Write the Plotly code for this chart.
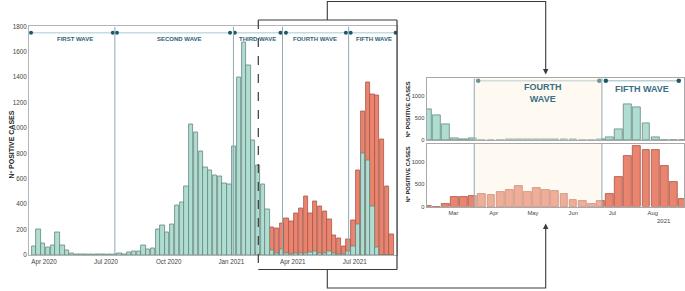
import pandas as pd
import plotly.graph_objects as go

W, H = 685, 291

# ---------------- data ----------------
week_dates = pd.date_range("2020-03-17", periods=76, freq="7D")
teal_cases = [65, 200, 92, 60, 79, 178, 73, 34, 15,
              5, 3, 4, 2, 1, 3, 1, 1,
              3, 10, 4, 18, 28, 28, 72, 42, 50,
              200, 232, 178, 244, 391, 415, 541,
              1029, 966, 816, 693, 667, 627, 617, 564, 554,
              858, 1399, 1672, 1496, 905, 703, 559, 360,
              39, 13, 47, 10, 3, 10, 15, 15, 20, 30, 15, 12, 25, 15, 5, 8, 30,
              65, 244, 803, 742, 381, 58, 0, 0, 0]
red_dates = week_dates[47:]
red_cases = [20, 0, 50, 218, 210, 249, 289, 262, 328, 367, 465, 328, 420, 381,
             341, 281, 157, 131, 71, 126, 276, 664, 1128, 1360, 1268, 1260, 911, 543, 165]

wave_names = ["FIRST WAVE", "SECOND WAVE", "THIRD WAVE", "FOURTH WAVE", "FIFTH WAVE"]
wave_starts = ["2020-03-13", "2020-07-17", "2021-01-06", "2021-03-22", "2021-06-25"]
wave_ends = ["2020-07-11", "2020-12-30", "2021-03-14", "2021-06-18", "2021-08-30"]
wave_label_x = ["2020-05-16", "2020-10-17", "2021-02-09", "2021-05-04", "2021-07-29"]
wave_separators = ["2020-07-14", "2021-01-04", "2021-03-17", "2021-06-22"]

inset_range = ["2021-02-08 12:00", "2021-08-25"]
inset_fourth = ["2021-03-17", "2021-06-23"]
inset_wave_lines = [("2021-03-20", "2021-06-21"), ("2021-06-26", "2021-08-21")]

TEAL, TEAL_LINE = "#b0ddd2", "#66877f"
RED, RED_LINE = "#e9846f", "#a95647"
WAVE_TXT = "#2d6377"
SEP = "#8faab3"
DAY = 86400000


def px(x):
    return x / W


def py(y):
    return 1 - y / H


fig = go.Figure()

# main chart bars
fig.add_trace(go.Bar(x=red_dates, y=red_cases, marker=dict(color=RED, line=dict(color=RED_LINE, width=0.8)),
                     width=6.3 * DAY, xaxis="x", yaxis="y", showlegend=False))
fig.add_trace(go.Bar(x=week_dates, y=teal_cases, marker=dict(color=TEAL, line=dict(color=TEAL_LINE, width=0.8)),
                     width=6.3 * DAY, xaxis="x", yaxis="y", showlegend=False))

# inset bars
inset_mask = [d >= pd.Timestamp("2021-02-01") for d in week_dates]
fig.add_trace(go.Bar(x=[d for d, m in zip(week_dates, inset_mask) if m],
                     y=[v for v, m in zip(teal_cases, inset_mask) if m],
                     marker=dict(color=TEAL, line=dict(color=TEAL_LINE, width=0.8)),
                     width=6.0 * DAY, xaxis="x2", yaxis="y2", showlegend=False))
fig.add_trace(go.Bar(x=red_dates, y=red_cases, marker=dict(color=RED, line=dict(color=RED_LINE, width=0.8)),
                     width=6.0 * DAY, xaxis="x3", yaxis="y3", showlegend=False))

# wave lines on main chart
for s, e in zip(wave_starts, wave_ends):
    fig.add_trace(go.Scatter(x=[s, e], y=[1750, 1750], mode="lines+markers",
                             line=dict(color="#c5dce2", width=1.5),
                             marker=dict(color="#1f5668", size=4),
                             xaxis="x", yaxis="y", showlegend=False, hoverinfo="skip"))
for s, e in inset_wave_lines:
    fig.add_trace(go.Scatter(x=[s, e], y=[1345, 1345], mode="lines+markers",
                             line=dict(color="#b9d0d6", width=1.5),
                             marker=dict(color="#1f5668", size=4.5),
                             xaxis="x2", yaxis="y2", showlegend=False, hoverinfo="skip"))

shapes = []
for d in wave_separators:
    shapes.append(dict(type="line", xref="x", yref="y", x0=d, x1=d, y0=0, y1=1800,
                       line=dict(color=SEP, width=1)))

for ax in ("2", "3"):
    shapes.append(dict(type="rect", xref="x" + ax, yref="y" + ax, x0=inset_fourth[0], x1=inset_fourth[1],
                       y0=0, y1=1400, fillcolor="rgba(253,243,222,0.38)", line=dict(width=0), layer="above"))
    for d in inset_fourth:
        shapes.append(dict(type="line", xref="x" + ax, yref="y" + ax, x0=d, x1=d, y0=0, y1=1400,
                           line=dict(color=SEP, width=1)))

# zoom box and connectors (paper coords)
BOX = "#3a3a3a"
shapes += [
    dict(type="line", xref="paper", yref="paper", x0=px(258.3), x1=px(258.3), y0=py(20), y1=py(269.5),
         line=dict(color=BOX, width=1.2, dash="dash")),
    dict(type="line", xref="paper", yref="paper", x0=px(258.3), x1=px(397), y0=py(20), y1=py(20),
         line=dict(color=BOX, width=1.2)),
    dict(type="line", xref="paper", yref="paper", x0=px(397), x1=px(397), y0=py(20), y1=py(269.5),
         line=dict(color=BOX, width=1.2)),
    dict(type="line", xref="paper", yref="paper", x0=px(258.3), x1=px(397), y0=py(269.5), y1=py(269.5),
         line=dict(color=BOX, width=1.2)),
    dict(type="path", xref="paper", yref="paper",
         path=f"M {px(327.3)},{py(20)} L {px(327.3)},{py(1.5)} L {px(545.7)},{py(1.5)} L {px(545.7)},{py(64)}",
         line=dict(color=BOX, width=1.1)),
    dict(type="path", xref="paper", yref="paper",
         path=f"M {px(327.3)},{py(269.5)} L {px(327.3)},{py(288)} L {px(545.7)},{py(288)} L {px(545.7)},{py(234)}",
         line=dict(color=BOX, width=1.1)),
]

annotations = []
for name, xd in zip(wave_names, wave_label_x):
    annotations.append(dict(x=xd, y=1700, xref="x", yref="y", text=f"<b>{name}</b>", showarrow=False,
                            font=dict(family="Liberation Sans", size=6, color=WAVE_TXT)))
annotations += [
    dict(x="2021-05-09", y=1068, xref="x2", yref="y2", text="<b>FOURTH<br>WAVE</b>", showarrow=False,
         font=dict(family="Liberation Sans", size=9, color="#3a6e84")),
    dict(x="2021-07-24", y=1158, xref="x2", yref="y2", text="<b>FIFTH WAVE</b>", showarrow=False,
         font=dict(family="Liberation Sans", size=9, color="#3a6e84")),
    dict(x=px(5), y=py(145), xref="paper", yref="paper", text="<b>Nº POSITIVE CASES</b>", textangle=-90,
         showarrow=False, font=dict(family="Liberation Sans", size=7, color="#222")),
    dict(x=px(407.5), y=py(110), xref="paper", yref="paper", text="<b>Nº POSITIVE CASES</b>", textangle=-90,
         showarrow=False, font=dict(family="Liberation Sans", size=5.8, color="#222")),
    dict(x=px(407.5), y=py(175), xref="paper", yref="paper", text="<b>Nº POSITIVE CASES</b>", textangle=-90,
         showarrow=False, font=dict(family="Liberation Sans", size=5.8, color="#222")),
    dict(x=px(672.7), y=py(226), xref="paper", yref="paper", text="2021", showarrow=False,
         font=dict(family="Liberation Sans", size=6, color="#444")),
    # arrow heads
    dict(x=px(545.7), y=py(74.5), xref="paper", yref="paper", ax=0, ay=-12, axref="pixel", ayref="pixel",
         text="", showarrow=True, arrowhead=2, arrowsize=1, arrowwidth=1.1, arrowcolor=BOX),
    dict(x=px(545.7), y=py(223.5), xref="paper", yref="paper", ax=0, ay=12, axref="pixel", ayref="pixel",
         text="", showarrow=True, arrowhead=2, arrowsize=1, arrowwidth=1.1, arrowcolor=BOX),
]

tickfont_main = dict(family="Liberation Sans", size=6.3, color="#444")
tickfont_inset = dict(family="Liberation Sans", size=5.8, color="#444")

common = dict(showgrid=False, showline=True, linewidth=1, mirror=True, ticks="", zeroline=False,
              automargin=False)

fig.update_layout(
    width=W, height=H, margin=dict(l=0, r=0, t=0, b=0, autoexpand=False),
    paper_bgcolor="white", plot_bgcolor="white",
    barmode="overlay", bargap=0,
    shapes=shapes, annotations=annotations,
    xaxis=dict(domain=[px(29), px(397)], range=["2020-03-10", "2021-09-01"], type="date",
               tickformat="%b %Y", dtick="M3", tick0="2020-01-01", tickfont=tickfont_main,
               linecolor="#b5b5b5", anchor="y", **common),
    yaxis=dict(domain=[py(255), py(26.4)], range=[0, 1800], dtick=200, tickfont=tickfont_main,
               linecolor="#b5b5b5", anchor="x", **common),
    xaxis2=dict(domain=[px(426.7), px(684)], range=inset_range, type="date", showticklabels=False,
                linecolor="#a8a8a8", anchor="y2", **common),
    yaxis2=dict(domain=[py(140.3), py(78.3)], range=[0, 1400], tickvals=[0, 500, 1000], tickfont=tickfont_inset,
                linecolor="#a8a8a8", anchor="x2", **common),
    xaxis3=dict(domain=[px(426.7), px(684)], range=inset_range, type="date", tickformat="%b",
                dtick="M1", tick0="2021-01-01", tickfont=tickfont_inset,
                linecolor="#a8a8a8", anchor="y3", **common),
    yaxis3=dict(domain=[py(206.7), py(144)], range=[0, 1400], tickvals=[0, 500, 1000], tickfont=tickfont_inset,
                linecolor="#a8a8a8", anchor="x3", **common),
)

fig.write_html("out.html", config={"displayModeBar": False},
               post_script="document.body.style.margin='0px';document.body.style.overflow='hidden';")
